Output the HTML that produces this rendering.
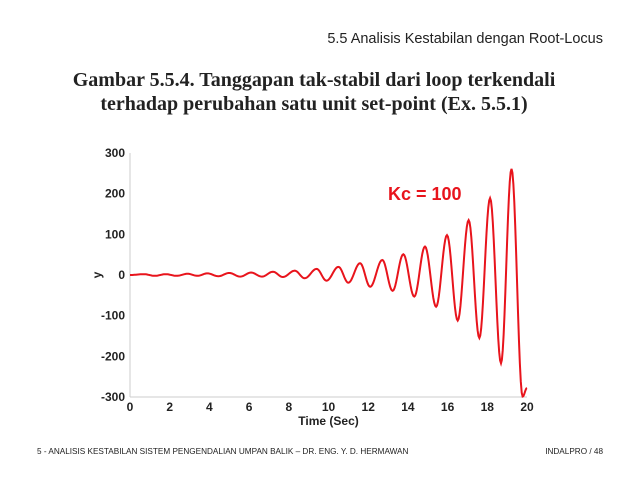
<!DOCTYPE html>
<html><head><meta charset="utf-8">
<style>
body{margin:0;width:638px;height:493px;background:#fff;overflow:hidden;position:relative;font-family:"Liberation Sans",sans-serif}
.t{position:absolute;white-space:nowrap}
</style></head><body>
<div class="t" style="right:35px;top:31px;font-size:14.5px;color:#222">5.5 Analisis Kestabilan dengan Root-Locus</div>
<div class="t" style="left:-5px;width:638px;top:68px;text-align:center;font-family:'Liberation Serif',serif;font-weight:bold;font-size:20px;line-height:24px;color:#222;white-space:normal">Gambar 5.5.4. Tanggapan tak-stabil dari loop terkendali<br>terhadap perubahan satu unit set-point (Ex. 5.5.1)</div>
<svg id="chart" width="638" height="493" style="position:absolute;left:0;top:0" font-family="Liberation Sans, sans-serif"></svg>
<div class="t" style="left:37px;top:447px;font-size:8.2px;color:#222">5 - ANALISIS KESTABILAN SISTEM PENGENDALIAN UMPAN BALIK – DR. ENG. Y. D. HERMAWAN</div>
<div class="t" style="right:35px;top:447px;font-size:8.2px;color:#222">INDALPRO / 48</div>
<script>
const xTicks=[0,2,4,6,8,10,12,14,16,18,20];
const yTicks=[300,200,100,0,-100,-200,-300];
const extremaT=[0,0.7,1.25,1.8,2.35,2.9,3.4,3.9,4.45,5.0,5.55,6.1,6.65,7.2,7.7,8.3,8.8,9.4,9.9,10.5,11.0,11.59,12.1,12.71,13.23,13.77,14.32,14.86,15.42,15.97,16.51,17.06,17.6,18.14,18.69,19.22,19.78,20];
const extremaY=[0,2,-2,2,-2,3,-2,4,-3,5,-4,6,-4,8,-5,10.6,-8,15,-14,20,-19,29,-29,37,-39,51,-53,70,-78,98,-112,135,-155,189,-217,261,-299,-278];
const X0=130,X1=527,Y0=397,Y1=153;
const sx=t=>X0+(t-0)/(20-0)*(X1-X0);
const sy=v=>Y0-(v+300)/600*(Y0-Y1);
const svg=document.getElementById('chart');
const NS='http://www.w3.org/2000/svg';
function mk(tag,attrs){const e=document.createElementNS(NS,tag);for(const k in attrs)e.setAttribute(k,attrs[k]);svg.appendChild(e);return e;}
let ax=mk('line',{x1:X0,y1:Y1,x2:X0,y2:Y0,stroke:'#ccc','stroke-width':1});


let bx=mk('line',{x1:X0,y1:Y0,x2:X1,y2:Y0,stroke:'#ccc','stroke-width':1});


xTicks.forEach(t=>{
  const e=mk('text',{x:sx(t),y:Y0+14,'text-anchor':'middle','font-size':12,'font-weight':'bold',fill:'#222'});
  e.textContent=t;
  
  
});
yTicks.forEach(v=>{
  const e=mk('text',{x:X0-5,y:sy(v)+4,'text-anchor':'end','font-size':12,'font-weight':'bold',fill:'#222'});
  e.textContent=v;
  
  
});
let xt=mk('text',{x:sx(10),y:425,'text-anchor':'middle','font-size':12,'font-weight':'bold',fill:'#222'});
xt.textContent='Time (Sec)';


let yt=mk('text',{x:0,y:0,transform:'translate(101,275) rotate(-90)','text-anchor':'middle','font-size':12,'font-weight':'bold',fill:'#222'});
yt.textContent='y';


let d='';
for(let i=0;i<extremaT.length-1;i++){
  const a=extremaY[i],b=extremaY[i+1],ta=extremaT[i],tb=extremaT[i+1];
  for(let k=0;k<=12;k++){
    const f=k/12,t=ta+(tb-ta)*f,v=a+(b-a)*(1-Math.cos(Math.PI*f))/2;
    d+=(d?'L':'M')+sx(t).toFixed(2)+','+sy(v).toFixed(2);
  }
}
let p=mk('path',{d:d,fill:'none',stroke:'#e8141c','stroke-width':2});


let kc=mk('text',{x:388,y:200,'font-size':18,'font-weight':'bold',fill:'#e8141c'});
kc.textContent='Kc = 100';


</script>
</body></html>
